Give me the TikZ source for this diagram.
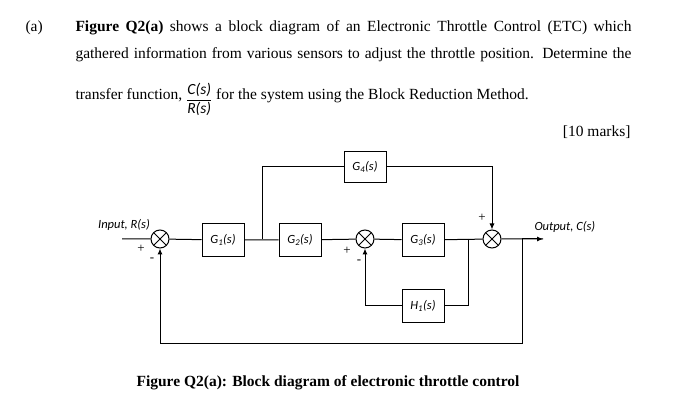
\documentclass[tikz,border=0pt]{standalone}
\usepackage{fontspec}
\setmainfont{Liberation Serif}
\newfontfamily\calfont{Carlito}
\usetikzlibrary{arrows.meta}
\begin{document}
\begin{tikzpicture}[x=1pt,y=-1pt,line width=1pt,
  blk/.style={draw,minimum width=42pt,minimum height=33pt,inner sep=0pt,font=\calfont\itshape\fontsize{12.5}{14}\selectfont},
  sum/.style={draw,circle,minimum size=18pt,inner sep=0pt,path picture={
    \draw (path picture bounding box.south west)--(path picture bounding box.north east)
          (path picture bounding box.north west)--(path picture bounding box.south east);}},
  lbl/.style={font=\calfont\itshape\fontsize{12.5}{14}\selectfont,inner sep=1pt},
  sgn/.style={font=\fontsize{13}{14}\selectfont,inner sep=0pt},
  txt/.style={font=\fontsize{15.5}{18}\selectfont,inner sep=0pt,anchor=base west},
  ar/.style={-{Latex[length=6pt,width=5pt]}}]
\useasboundingbox (0,0) rectangle (688,403);
% question text
\node[txt] (qa) at (25,32) {(a)};
\node[txt] (l1) at (75,32) {\makebox[556pt][s]{\textbf{Figure Q2(a)} shows a block diagram of an Electronic Throttle Control (ETC) which}};
\node[txt] (l2) at (75,59) {\makebox[556pt][s]{gathered information from various sensors to adjust the throttle position. Determine the}};
\node[txt] (l3) at (75,100) {transfer function, \raisebox{-4pt}{$\displaystyle\frac{\hbox{\calfont\itshape C(s)}}{\hbox{\calfont\itshape R(s)}}$} for the system using the Block Reduction Method.};
\node[txt,anchor=base east] (mk) at (631,137) {[10 marks]};
% blocks
\node[sum] (s1) at (160,239) {};
\node[blk] (g1) at (223,240) {G\textsubscript{1}(s)};
\node[blk] (g2) at (300,240) {G\textsubscript{2}(s)};
\node[sum] (s2) at (365,239) {};
\node[blk] (g3) at (423,240) {G\textsubscript{3}(s)};
\node[sum] (s3) at (492,239) {};
\node[blk,minimum height=31pt] (g4) at (365,167) {G\textsubscript{4}(s)};
\node[blk] (h1) at (423,306) {H\textsubscript{1}(s)};
\coordinate (in) at (122,239);
\coordinate (b1) at (262,239);
\coordinate (b2) at (468,239);
\coordinate (b3) at (522,239);
\coordinate (out) at (543,239);
% connectors
\draw (in) -- (s1) -- (g1) -- (g2);
\draw (g2) -- (s2) -- (g3) -- (s3) -- (out);
\draw[ar] (b3) -- (out);
\draw (b1) |- (g4);
\draw[ar] (g4) -| (s3);
\draw (b2) |- (h1);
\draw[ar] (h1) -| (s2);
\draw[ar] (b3) |- (160,343) -- (s1);
% labels
\node[lbl,anchor=south] (ir) at (124,232) {Input, R(s)};
\node[lbl,anchor=south west] (oc) at (533,234) {Output, C(s)};
\node[sgn] (p1) at (141,249) {+};
\node[sgn] (m1) at (152,260) {-};
\node[sgn] (p2) at (347,251) {+};
\node[sgn] (m2) at (359,262) {-};
\node[sgn] (p3) at (482,218) {+};
% caption
\node[font=\bfseries\fontsize{15.5}{18}\selectfont,inner sep=0pt] (cap) at (328,383) {Figure Q2(a): Block diagram of electronic throttle control};
\end{tikzpicture}
\end{document}
